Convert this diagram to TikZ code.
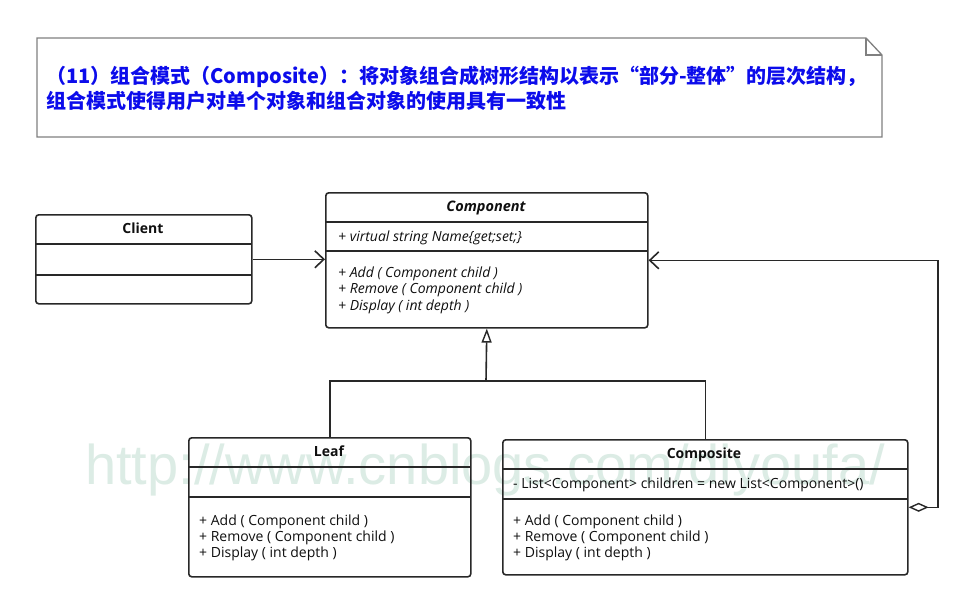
\documentclass[tikz,border=0pt]{standalone}
\usepackage{fontspec}
\setmainfont{Open Sans}
\newfontfamily\cjkfont{Noto Sans CJK SC}
\newfontfamily\wmfont{Liberation Sans}
\usetikzlibrary{arrows.meta}
\definecolor{linec}{RGB}{40,40,40}
\definecolor{notec}{RGB}{128,128,128}
\definecolor{titlec}{RGB}{12,12,235}
\definecolor{wmc}{RGB}{220,236,229}
\definecolor{textc}{RGB}{15,15,15}
\begin{document}
\begin{tikzpicture}[x=1pt,y=-1pt,
  cls/.style={draw=linec, line width=1.6pt, rounded corners=3pt, anchor=north west, inner sep=0pt},
  member/.style={anchor=west, inner sep=0pt, text height=10pt, text depth=0.5pt, text=textc, font=\fontsize{14}{16}\selectfont},
  head/.style={inner sep=0pt, text height=10pt, text depth=0.5pt, text=textc, font=\fontsize{14}{16}\selectfont\bfseries},
  divider/.style={draw=linec, line width=1.6pt},
  conn/.style={draw=linec, line width=1.6pt},
  titletxt/.style={anchor=west, inner sep=0pt, text=titlec, font=\cjkfont\bfseries\fontsize{20}{22}\selectfont}
]
\useasboundingbox[fill=white] (0,0) rectangle (969,603);

% watermark
\node[inner sep=0pt, text=wmc, font=\wmfont\fontsize{56}{60}\selectfont] (wm) at (485,470) {http://www.cnblogs.com/diyoufa/};

% note
\draw[notec, line width=1.3pt] (37,38) -- (866,38) -- (882,55) -- (882,137) -- (37,137) -- cycle;
\draw[notec, line width=1.3pt] (866,38) -- (866,55) -- (882,55);
\node[titletxt] (t1) at (46,77) {（11）组合模式（Composite）：将对象组合成树形结构以表示“部分-整体”的层次结构，};
\node[titletxt] (t2) at (46,101) {组合模式使得用户对单个对象和组合对象的使用具有一致性};

% Component
\node[cls, minimum width=322, minimum height=135] (comp) at (325,192) {};
\draw[divider] (325,222) -- (647,222);
\draw[divider] (325,251) -- (647,251);
\node[head, font=\fontsize{14.5}{16}\selectfont\bfseries\itshape] (compn) at (486,207) {Component};
\node[member, font=\fontsize{14}{16}\selectfont\itshape] (compa) at (338,237) {+ virtual string Name\{get;set;\}};
\node[member, font=\fontsize{14}{16}\selectfont\itshape] (compm1) at (338,273) {+ Add ( Component child )};
\node[member, font=\fontsize{14}{16}\selectfont\itshape] (compm2) at (338,289) {+ Remove ( Component child )};
\node[member, font=\fontsize{14}{16}\selectfont\itshape] (compm3) at (338,306) {+ Display ( int depth )};

% Client
\node[cls, minimum width=216, minimum height=89] (client) at (35,214) {};
\draw[divider] (35,244) -- (251,244);
\draw[divider] (35,275) -- (251,275);
\node[head] (clientn) at (143,229) {Client};

% Leaf
\node[cls, minimum width=282, minimum height=139] (leaf) at (188,437) {};
\draw[divider] (188,467) -- (470,467);
\draw[divider] (188,497) -- (470,497);
\node[head] (leafn) at (329,452) {Leaf};
\node[member] (leafm1) at (199,521) {+ Add ( Component child )};
\node[member] (leafm2) at (199,537) {+ Remove ( Component child )};
\node[member] (leafm3) at (199,553) {+ Display ( int depth )};

% Composite
\node[cls, minimum width=405, minimum height=135] (compo) at (502,439) {};
\draw[divider] (502,469) -- (907,469);
\draw[divider] (502,499) -- (907,499);
\node[head] (compon) at (704,454) {Composite};
\node[member] (compoa) at (513,484) {- List<Component> children = new List<Component>()};
\node[member] (compom1) at (513,521) {+ Add ( Component child )};
\node[member] (compom2) at (513,537) {+ Remove ( Component child )};
\node[member] (compom3) at (513,553) {+ Display ( int depth )};

% connectors
\draw[conn, -{Straight Barb[length=9pt,width=17pt,line width=1.6pt]}] (client.east) -- (client.east -| comp.west);
\coordinate (j) at (486,381);
\draw[conn] (leaf.north) |- (j) -| (compo.north);
\draw[conn, -{Triangle[open, length=14pt, width=10pt, line width=1.4pt]}] (j) -- (comp.south);
\coordinate (aggc) at (938,400);
\draw[conn, {Diamond[open, length=20pt, width=9pt, line width=1.4pt]}-{Straight Barb[length=9pt,width=17pt,line width=1.6pt]}] (compo.east) -| (aggc) |- (comp.east);
\end{tikzpicture}
\end{document}
